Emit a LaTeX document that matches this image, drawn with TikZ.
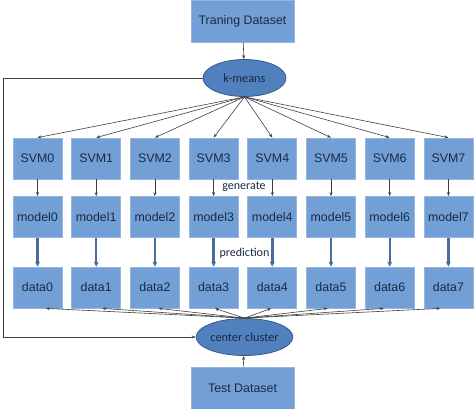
\documentclass[tikz,border=0pt]{standalone}
\usepackage{fontspec}
\setmainfont{Liberation Sans}
\newfontfamily\calfont{Carlito}
\usetikzlibrary{shapes.geometric,arrows.meta}
\definecolor{boxfill}{RGB}{114,160,214}
\definecolor{boxline}{RGB}{150,182,224}
\definecolor{ellfill}{RGB}{80,128,190}
\definecolor{ellline}{RGB}{56,90,138}
\definecolor{txt}{RGB}{28,40,66}
\definecolor{thick}{RGB}{74,108,156}

\begin{document}
\begin{tikzpicture}[x=1pt,y=-1pt,
  box/.style={rectangle,fill=boxfill,draw=boxline,line width=0.8pt,text=txt,font=\fontsize{12.4}{14}\selectfont,minimum width=49pt,minimum height=41pt,inner sep=0pt},
  bigbox/.style={box,minimum width=103pt,minimum height=42pt},
  ell/.style={ellipse,fill=ellfill,draw=ellline,line width=0.8pt,text=txt,font=\calfont\fontsize{12.3}{14}\selectfont,minimum width=83pt,minimum height=37pt,inner sep=0pt},
  thin/.style={draw=black!75,line width=0.6pt,-{Stealth[length=4pt,width=3pt]}},
  fat/.style={draw=thick,line width=2.4pt,-{Stealth[length=5pt,width=5pt]}},
  lbl/.style={text=txt,font=\calfont\fontsize{12}{14}\selectfont,inner sep=1pt}]
\useasboundingbox (0,0) rectangle (474,408);
\node[bigbox] (train) at (242.5,21) {Traning Dataset};
\node[ell] (km) at (244.5,78) {k-means};
\node[ell] (cc) at (244.5,337) {center cluster};
\node[bigbox] (test) at (242.5,388) {Test Dataset};
\foreach \i in {0,...,7}{
  \pgfmathsetmacro\cx{37.5+58.7*\i}
  \node[box] (svm\i) at (\cx,158.5) {SVM\i};
  \node[box] (model\i) at (\cx,217) {model\i};
  \node[box] (data\i) at (\cx,287.5) {data\i};
}
\draw[thin] (train) -- (km);
\draw[thin] (test) -- (cc);
\foreach \i in {0,...,7}{
  \pgfmathsetmacro\dx{(244.5-(37.5+58.7*\i))*0.04}
  \draw[thin] (km.south) -- (svm\i.north);
  \draw[thin] (svm\i) -- (model\i);
  \draw[fat] (model\i) -- (data\i);
  \draw[thin] (cc.north) -- ([xshift=\dx pt]data\i.south);
}
\coordinate (back) at (3,78);
\draw[thin] (km.west) -- (back) |- (cc.west);
\node[lbl] (gen) at (244,187) {generate};
\node[lbl] (pred) at (244.5,253) {prediction};
\end{tikzpicture}
\end{document}
